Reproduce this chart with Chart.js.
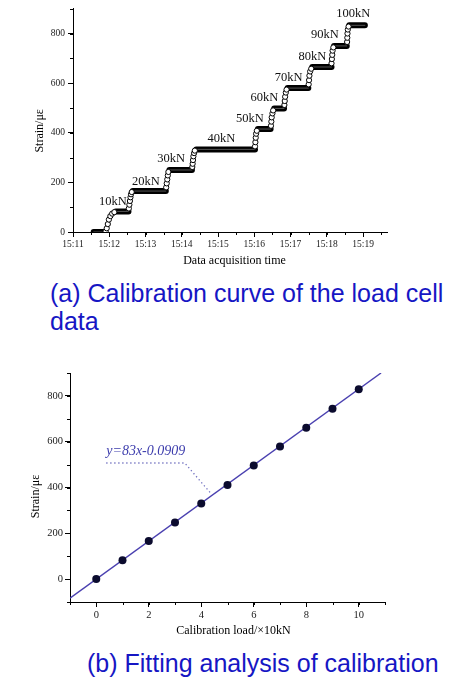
<!DOCTYPE html>
<html>
<head>
<meta charset="utf-8">
<script src="https://cdn.jsdelivr.net/npm/chart.js@4.4.1/dist/chart.umd.min.js"></script>
<style>
  body { margin: 0; background: #fff; width: 474px; height: 689px; overflow: hidden; position: relative; }
  canvas { position: absolute; left: 0; }
  .cap { position: absolute; font-family: "Liberation Sans", Arial, sans-serif; font-size: 25px; line-height: 28px; color: #1616c4; white-space: nowrap; }
</style>
</head>
<body>
<canvas id="timeChart" width="474" height="275" style="top:0"></canvas>
<div class="cap" style="left:50px; top:279px">(a) Calibration curve of the load cell<br>data</div>
<canvas id="fitChart" width="474" height="285" style="top:355px"></canvas>
<div class="cap" style="left:87px; top:649px">(b) Fitting analysis of calibration</div>
<script>
// (a) strain vs acquisition time, x in minutes after 15:11
const timeLabels = ['15:11', '15:12', '15:13', '15:14', '15:15', '15:16', '15:17', '15:18', '15:19'];
const timeTickValues = [0, 1, 2, 3, 4, 5, 6, 7, 8];
const strainTicks = [0, 200, 400, 600, 800];
const stepLoads = ['10kN', '20kN', '30kN', '40kN', '50kN', '60kN', '70kN', '80kN', '90kN', '100kN'];
const plateauLevel = [0, 83, 165, 250, 333, 415, 498, 580, 665, 750, 833];
const plateauStart = [0.57, 1.18, 1.65, 2.66, 3.40, 5.10, 5.55, 5.92, 6.60, 7.20, 7.62];
const plateauEnd = [0.89, 1.53, 2.56, 3.28, 5.02, 5.45, 5.82, 6.49, 7.13, 7.55, 8.05];
const riseTime = [
  [0.90, 0.93, 0.96, 0.99, 1.03, 1.08, 1.14],
  [1.54, 1.555, 1.57, 1.585, 1.60, 1.62],
  [2.57, 2.585, 2.60, 2.615, 2.63],
  [3.29, 3.30, 3.31, 3.32, 3.34, 3.36],
  [5.02, 5.03, 5.04, 5.05, 5.07],
  [5.46, 5.47, 5.48, 5.50, 5.52],
  [5.83, 5.84, 5.85, 5.87, 5.89],
  [6.50, 6.51, 6.52, 6.54, 6.57],
  [7.13, 7.14, 7.15, 7.16, 7.18],
  [7.56, 7.565, 7.57, 7.58, 7.60]
];
const riseStrain = [
  [3, 15, 32, 50, 64, 74, 80],
  [95, 110, 125, 140, 152, 161],
  [180, 196, 212, 228, 242],
  [262, 275, 290, 305, 318, 328],
  [345, 362, 380, 396, 408],
  [428, 445, 462, 478, 490],
  [512, 528, 545, 562, 574],
  [595, 612, 630, 647, 658],
  [680, 697, 714, 731, 744],
  [766, 783, 800, 816, 828]
];
// where the load labels sit (data coords)
const loadLabelX = [1.10, 2.01, 2.71, 4.09, 4.88, 5.28, 5.95, 6.60, 6.95, 7.73];
const loadLabelY = [121, 201, 296, 375, 458, 542, 622, 708, 796, 879];

// (b) calibration fit
const loadSteps = [0, 1, 2, 3, 4, 5, 6, 7, 8, 9, 10];
const meanStrain = [0, 82, 166, 247, 330, 411, 496, 579, 661, 744, 829];
const fitSlope = 83;
const fitIntercept = -0.0909;
const fitText = 'y=83x-0.0909';
const loadTicks = [0, 2, 4, 6, 8, 10];
const fitStrainTicks = [0, 200, 400, 600, 800];
const leaderX = [0.38, 3.37, 4.39];
const leaderY = [507, 507, 371];

const serif = '"Liberation Serif", "Times New Roman", serif';

const minorTicks = {
  id: 'minorTicks',
  afterDraw(chart, args, opts) {
    const ctx = chart.ctx;
    const x = chart.scales.x, y = chart.scales.y;
    ctx.save();
    ctx.strokeStyle = '#000';
    ctx.lineWidth = 1;
    ctx.beginPath();
    for (let v = x.min; v <= x.max + 1e-6; v += opts.xStep) {
      const px = Math.round(x.getPixelForValue(v)) + 0.5;
      ctx.moveTo(px, x.top);
      ctx.lineTo(px, x.top + 3);
    }
    for (let v = y.min; v <= y.max + 1e-6; v += opts.yStep) {
      const py = Math.round(y.getPixelForValue(v)) + 0.5;
      ctx.moveTo(y.right, py);
      ctx.lineTo(y.right - 3, py);
    }
    ctx.stroke();
    ctx.restore();
  }
};

const loadLabels = {
  id: 'loadLabels',
  afterDatasetsDraw(chart) {
    const ctx = chart.ctx;
    const x = chart.scales.x, y = chart.scales.y;
    ctx.save();
    ctx.fillStyle = '#111';
    ctx.font = '12.5px ' + serif;
    ctx.textAlign = 'center';
    ctx.textBaseline = 'middle';
    stepLoads.forEach((t, i) => {
      ctx.fillText(t, x.getPixelForValue(loadLabelX[i]), y.getPixelForValue(loadLabelY[i]));
    });
    ctx.restore();
  }
};

const fitLabel = {
  id: 'fitLabel',
  afterDatasetsDraw(chart) {
    const ctx = chart.ctx;
    const x = chart.scales.x, y = chart.scales.y;
    ctx.save();
    ctx.fillStyle = '#3c3cac';
    ctx.font = 'italic 14px ' + serif;
    ctx.textAlign = 'left';
    ctx.textBaseline = 'middle';
    ctx.fillText(fitText, x.getPixelForValue(leaderX[0]), y.getPixelForValue(556));
    ctx.restore();
  }
};

function axisCommon(fontSize) {
  return {
    grid: { drawOnChartArea: false, drawTicks: true, tickLength: 5, color: '#000' },
    border: { display: true, color: '#000', width: 1 },
    ticks: { autoSkip: false, maxRotation: 0, color: '#1a1a1a', font: { family: serif, size: fontSize } }
  };
}

// ---- chart (a)
const plateauData = [];
plateauLevel.forEach((lv, i) => {
  plateauData.push({ x: plateauStart[i], y: lv }, { x: plateauEnd[i], y: lv });
  plateauData.push({ x: plateauEnd[i] + 0.01, y: null });
});
const risePoints = [];
riseTime.forEach((ts, i) => ts.forEach((t, j) => risePoints.push({ x: t, y: riseStrain[i][j] })));

const ax = axisCommon(9.5), ay = axisCommon(9.5);
new Chart(document.getElementById('timeChart'), {
  type: 'line',
  data: {
    datasets: [
      { data: risePoints, showLine: false, pointRadius: 2.6, pointBorderWidth: 1,
        pointBorderColor: '#000', pointBackgroundColor: '#fff', order: 0 },
      { data: plateauData, borderColor: '#555', borderWidth: 1, pointRadius: 0,
        borderCapStyle: 'round', spanGaps: false, order: 1 },
      { data: plateauData, borderColor: '#000', borderWidth: 6, pointRadius: 0,
        borderCapStyle: 'round', spanGaps: false, order: 2 }
    ]
  },
  options: {
    responsive: false,
    animation: false,
    layout: { padding: { top: 4, right: 87, left: 0, bottom: 0 } },
    plugins: { legend: { display: false }, tooltip: { enabled: false }, minorTicks: { xStep: 0.5, yStep: 100 } },
    scales: {
      x: {
        type: 'linear', min: 0, max: 8.66,
        grid: ax.grid, border: ax.border,
        ticks: Object.assign({}, ax.ticks, { padding: 2, callback: (v, i) => timeLabels[i] }),
        afterBuildTicks: s => { s.ticks = timeTickValues.map(v => ({ value: v })); },
        afterFit: s => { s.height = 43; },
        title: { display: true, text: '   Data acquisition time', color: '#000',
          font: { family: serif, size: 12 }, padding: { top: 0, bottom: 6.5 } }
      },
      y: {
        min: 0, max: 900,
        grid: ay.grid, border: ay.border,
        ticks: Object.assign({}, ay.ticks, { padding: 3 }),
        afterBuildTicks: s => { s.ticks = strainTicks.map(v => ({ value: v })); },
        afterFit: s => { s.width = 73; },
        title: { display: true, text: 'Strain/με       ', color: '#000',
          font: { family: serif, size: 12 }, padding: { top: 33, bottom: 0 } }
      }
    }
  },
  plugins: [minorTicks, loadLabels]
});

// ---- chart (b)
const fitEnds = [-1, 10.85];
const bx = axisCommon(10.5), by = axisCommon(10.5);
new Chart(document.getElementById('fitChart'), {
  type: 'line',
  data: {
    datasets: [
      { data: loadSteps.map((v, i) => ({ x: v, y: meanStrain[i] })), showLine: false,
        pointRadius: 4, pointBorderWidth: 0, pointBackgroundColor: '#0b0b2e', order: 0 },
      { data: fitEnds.map(v => ({ x: v, y: fitSlope * v + fitIntercept })), borderColor: '#4a40b0',
        borderWidth: 1.3, pointRadius: 0, order: 1 },
      { data: leaderX.map((v, i) => ({ x: v, y: leaderY[i] })), borderColor: '#7070c0',
        borderWidth: 1.3, borderDash: [1.3, 2.7], pointRadius: 0, order: 2 }
    ]
  },
  options: {
    responsive: false,
    animation: false,
    layout: { padding: { top: 18, right: 89, left: 0, bottom: 0 } },
    plugins: { legend: { display: false }, tooltip: { enabled: false }, minorTicks: { xStep: 1, yStep: 100 } },
    scales: {
      x: {
        type: 'linear', min: -1, max: 11,
        grid: bx.grid, border: bx.border,
        ticks: Object.assign({}, bx.ticks, { padding: 2 }),
        afterBuildTicks: s => { s.ticks = loadTicks.map(v => ({ value: v })); },
        afterFit: s => { s.height = 38; },
        title: { display: true, text: '    Calibration load/×10kN', color: '#000',
          font: { family: serif, size: 12 }, padding: { top: 0, bottom: 1.5 } }
      },
      y: {
        min: -100, max: 900,
        grid: by.grid, border: by.border,
        ticks: Object.assign({}, by.ticks, { padding: 2 }),
        afterBuildTicks: s => { s.ticks = fitStrainTicks.map(v => ({ value: v })); },
        afterFit: s => { s.width = 70; },
        title: { display: true, text: 'Strain/με      ', color: '#000',
          font: { family: serif, size: 12 }, padding: { top: 29, bottom: 0 } }
      }
    }
  },
  plugins: [minorTicks, fitLabel]
});
</script>
</body>
</html>
